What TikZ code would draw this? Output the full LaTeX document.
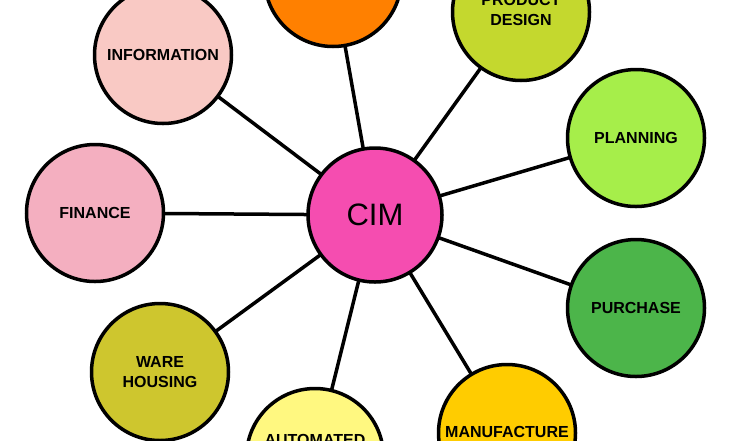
\documentclass[tikz,border=0pt]{standalone}
\usepackage{fontspec}
\setmainfont{Liberation Sans}
\begin{document}
\begin{tikzpicture}[x=1pt,y=-1pt,
  bub/.style={circle,draw=black,line width=3.5pt,minimum size=137pt,inner sep=0pt,align=center,font=\bfseries\fontsize{16}{18}\selectfont},
  lbl/.style={anchor=base,font=\bfseries\fontsize{16}{18}\selectfont},
  lnk/.style={line width=3.5pt}]
\useasboundingbox (0,0) rectangle (749,440);
\definecolor{cOr}{HTML}{FF8000}
\definecolor{cPd}{HTML}{C4D82E}
\definecolor{cIn}{HTML}{F9C9C4}
\definecolor{cPl}{HTML}{A6EE4A}
\definecolor{cFi}{HTML}{F4AFC0}
\definecolor{cPu}{HTML}{4CB54A}
\definecolor{cWh}{HTML}{CEC62E}
\definecolor{cAu}{HTML}{FFF880}
\definecolor{cMa}{HTML}{FFCC00}
\definecolor{cCim}{HTML}{F54DB0}
\coordinate (c) at (375,215);
\coordinate (p1) at (333,-22);
\coordinate (p2) at (521,12);
\coordinate (p3) at (163,55);
\coordinate (p4) at (636,138);
\coordinate (p5) at (95,213);
\coordinate (p6) at (636,308);
\coordinate (p7) at (160,372);
\coordinate (p8) at (315,457);
\coordinate (p9) at (507,433);
\foreach \p in {p1,p2,p3,p4,p5,p6,p7,p8,p9} \draw[lnk] (c) -- (\p);
\node[bub,fill=cOr] (top) at (p1) {};
\node[bub,fill=cPd] (pd) at (p2) {};
\node[lbl] (pdt) at (521,5) {PRODUCT};
\node[lbl] (pdd) at (521,25) {DESIGN};
\node[bub,fill=cIn] (inf) at (p3) {INFORMATION};
\node[bub,fill=cPl] (pl) at (p4) {PLANNING};
\node[bub,fill=cFi] (fi) at (p5) {FINANCE};
\node[bub,fill=cPu] (pu) at (p6) {PURCHASE};
\node[bub,fill=cWh] (wh) at (p7) {WARE\\[2pt]HOUSING};
\node[bub,fill=cAu] (au) at (p8) {};
\node[lbl] (aut) at (315,445) {AUTOMATED};
\node[bub,fill=cMa] (ma) at (p9) {};
\node[lbl] (mat) at (507,437) {MANUFACTURE};
\node[bub,fill=cCim,minimum size=134pt,font=\fontsize{31}{34}\selectfont] (cim) at (c) {CIM};
\end{tikzpicture}
\end{document}
